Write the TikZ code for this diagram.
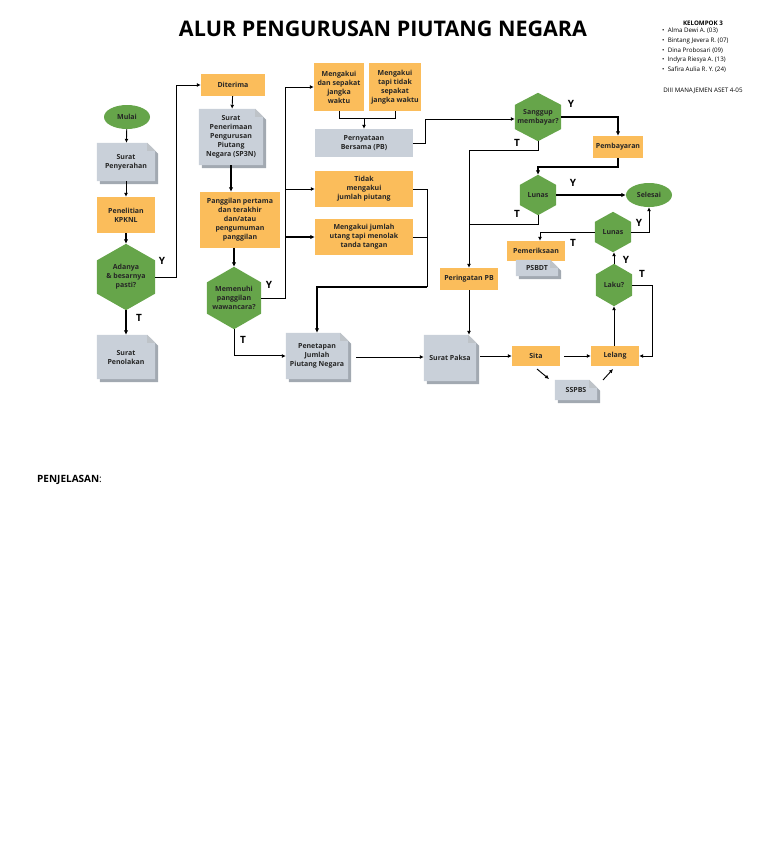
\documentclass[tikz,border=0pt]{standalone}
\usepackage{fontspec}
\setmainfont{Open Sans}
\usetikzlibrary{shapes.geometric,arrows.meta,calc,backgrounds}
\definecolor{orc}{HTML}{FBBD5B}
\definecolor{grc}{HTML}{66A54A}
\definecolor{gyc}{HTML}{C9D0D9}
\definecolor{shc}{HTML}{A2A9B1}
\newcommand\docshape[1]{%
 \fill[shc] ($(#1.south west)+(3,3)$) -- ($(#1.north west)+(3,3)$) -- ($(#1.north east)+(-5,3)$) -- ($(#1.north east)+(3,11)$) -- ($(#1.south east)+(3,3)$) -- cycle;
 \fill[gyc] (#1.south west) -- (#1.north west) -- ($(#1.north east)+(-8,0)$) -- ($(#1.north east)+(0,8)$) -- (#1.south east) -- cycle;
 \fill[shc!70] ($(#1.north east)+(-8,0)$) -- ($(#1.north east)+(-8,8)$) -- ($(#1.north east)+(0,8)$) -- cycle;}
\newcommand\hexshape[1]{%
 \fill[grc] (#1.north) -- ($(#1.north east)!0.25!(#1.south east)$) -- ($(#1.north east)!0.75!(#1.south east)$) -- (#1.south) -- ($(#1.south west)!0.25!(#1.north west)$) -- ($(#1.south west)!0.75!(#1.north west)$) -- cycle;}
\newcommand\boxshape[1]{\fill[orc] (#1.south west) rectangle (#1.north east);}
\newcommand\grayshape[1]{\fill[gyc] (#1.south west) rectangle (#1.north east);}
\begin{document}
\begin{tikzpicture}[x=1pt,y=-1pt,
 t/.style={font=\fontsize{7}{9}\selectfont\bfseries,align=center,inner sep=0pt,text=black!85},
 ell/.style={t,ellipse,fill=grc,minimum width=46,minimum height=24},
 arr/.style={-{Latex[length=4pt,width=4pt]},line width=0.9pt},
 tarr/.style={-{Latex[length=4.5pt,width=4.5pt]},line width=1.6pt},
 ln/.style={line width=0.9pt},
 yl/.style={font=\fontsize{10}{10}\selectfont\bfseries}]
\useasboundingbox (0,0) rectangle (768,862);
\node[font=\fontsize{21.5}{22}\selectfont\bfseries] (title) at (383,29) {ALUR PENGURUSAN PIUTANG NEGARA};
\node[font=\fontsize{6.2}{7}\selectfont\bfseries] (kel) at (703,23) {KELOMPOK 3};
\node[font=\fontsize{6.2}{9.6}\selectfont,align=left,anchor=north west,inner sep=0pt] (list) at (662,28) {\textbullet\ \ Alma Dewi A. (03)\\\textbullet\ \ Bintang Jevera R. (07)\\\textbullet\ \ Dina Probosari (09)\\\textbullet\ \ Indyra Riesya A. (13)\\\textbullet\ \ Safira Aulia R. Y. (24)};
\node[font=\fontsize{6.2}{7}\selectfont] (diii) at (703,91) {DIII MANAJEMEN ASET 4-05};
\node[font=\fontsize{10}{10}\selectfont,anchor=west,inner sep=0pt] (pj) at (37,480) {\textbf{PENJELASAN}:};

\node[ell] (mulai) at (127,117) {Mulai};
\node[t,minimum width=58,minimum height=38] (spy) at (126,162) {Surat\\Penyerahan};
\node[t,minimum width=58,minimum height=36] (pen) at (126,215) {Penelitian\\KPKNL};
\node[t,minimum width=58,minimum height=66] (ada) at (126,277) {Adanya\\\& besarnya\\pasti?};
\node[t,minimum width=58,minimum height=44] (spl) at (126,357) {Surat\\Penolakan};
\node[t,minimum width=64,minimum height=22] (dit) at (233,85) {Diterima};
\node[t,minimum width=64,minimum height=56] (sp3n) at (231,137) {Surat\\Penerimaan\\Pengurusan\\Piutang\\Negara (SP3N)};
\node[t,minimum width=80,minimum height=56] (pgl) at (240,220) {Panggilan pertama\\dan terakhir\\dan/atau\\pengumuman\\panggilan};
\node[t,minimum width=54,minimum height=62] (mem) at (234,298) {Memenuhi\\panggilan\\wawancara?};
\node[t,minimum width=62,minimum height=46] (pjn) at (317,356) {Penetapan\\Jumlah\\Piutang Negara};
\node[t,minimum width=50,minimum height=48] (mk1) at (339,87) {Mengakui\\dan sepakat\\jangka\\waktu};
\node[t,minimum width=52,minimum height=48] (mk2) at (395,87) {Mengakui\\tapi tidak\\sepakat\\jangka waktu};
\node[t,minimum width=98,minimum height=28] (pb) at (364,143) {Pernyataan\\Bersama (PB)};
\node[t,minimum width=98,minimum height=36] (tdk) at (364,189) {Tidak\\mengakui\\jumlah piutang};
\node[t,minimum width=98,minimum height=36] (mkj) at (364,237) {Mengakui jumlah\\utang tapi menolak\\tanda tangan};
\node[t,minimum width=46,minimum height=48] (sgp) at (538,117) {Sanggup\\membayar?};
\node[t,minimum width=50,minimum height=22] (pby) at (618,147) {Pembayaran};
\node[t,minimum width=36,minimum height=40] (ln1) at (538,195) {Lunas};
\node[ell] (sel) at (649,195) {Selesai};
\node[t,minimum width=36,minimum height=40] (ln2) at (613,232) {Lunas};
\node[t,minimum width=58,minimum height=20] (pmr) at (536,251) {Pemeriksaan};
\node[t,minimum width=42,minimum height=16] (psb) at (537,268) {PSBDT};
\node[t,minimum width=58,minimum height=22] (prg) at (469,279) {Peringatan PB};
\node[t,minimum width=36,minimum height=42] (laku) at (614,285) {Laku?};
\node[t,minimum width=52,minimum height=46] (spk) at (450,358) {Surat Paksa};
\node[t,minimum width=48,minimum height=20] (sita) at (536,356) {Sita};
\node[t,minimum width=48,minimum height=20] (lel) at (615,356) {Lelang};
\node[t,minimum width=42,minimum height=20] (ssp) at (576,390) {SSPBS};
\coordinate (j2) at (469,224);

\begin{scope}[on background layer]
\docshape{spy}\boxshape{pen}\hexshape{ada}\docshape{spl}
\boxshape{dit}\docshape{sp3n}\boxshape{pgl}\hexshape{mem}\docshape{pjn}
\boxshape{mk1}\boxshape{mk2}\grayshape{pb}\boxshape{tdk}\boxshape{mkj}
\hexshape{sgp}\boxshape{pby}\hexshape{ln1}\hexshape{ln2}\boxshape{pmr}\docshape{psb}
\boxshape{prg}\hexshape{laku}\docshape{spk}\boxshape{sita}\boxshape{lel}\docshape{ssp}
\end{scope}

\draw[arr] (mulai) -- (spy);
\draw[arr] (spy) -- (pen);
\draw[tarr] (pen) -- (ada);
\draw[tarr] (ada) -- (spl) node[yl,pos=0.3,right=6pt] {T};
\draw[arr] (ada.east) -- ++(21,0) |- (dit.west);
\node[yl] (y1) at (162,261) {Y};
\draw[arr] (dit) -- (sp3n);
\draw[tarr] (sp3n.south) -- (sp3n.south |- pgl.north);
\draw[tarr] (pgl.south -| mem.north) -- (mem.north);
\draw[arr] (mem.east) -- ++(24,0) |- (mk1.west);
\node[yl] (y2) at (269,285) {Y};
\coordinate (jn) at (286,189);
\draw[arr] (jn) -- (tdk.west);
\draw[tarr] (mkj.west -| jn) -- (mkj.west);
\draw[arr] (mem.south) -- ++(0,26) -| ($(pjn.west)+(-3,0)$) -- (pjn.west);
\node[yl] (t2) at (243,340) {T};
\draw[ln] (mk1.south) -- ++(0,7) -| (mk2.south);
\draw[arr] (364,118) -- (pb.north);
\draw[arr] (pb.east) -- ++(12,0) |- ($(sgp.west)+(0,2)$);
\draw[ln] (tdk.east) -| (427,287);
\draw[ln] (mkj.east) -- (427,237);
\draw[tarr] (427,287) -| (pjn.north);
\draw[arr] (356,357) -- (spk.west |- 0,357);
\draw[tarr] (sgp.east) -| (pby.north);
\node[yl] (y3) at (571,104) {Y};
\draw[arr] (sgp.south) -- ++(0,9) -| (prg.north);
\node[yl] (t3) at (517,143) {T};
\draw[tarr] (pby.south) -- ++(0,9) -| (ln1.north);
\draw[tarr] (ln1.east) -- (sel.west);
\node[yl] (y4) at (573,183) {Y};
\draw[ln] (ln1.south) |- (j2);
\node[yl] (t4) at (517,214) {T};
\draw[arr] (ln2.west) -| ($(pmr.north)+(4,0)$);
\node[yl] (t5) at (573,243) {T};
\draw[arr] (ln2.east) -| (sel.south);
\node[yl] (y5) at (639,223) {Y};
\draw[arr] (laku.north) -- (ln2.south -| laku.north);
\node[yl] (y6) at (626,260) {Y};
\draw[arr] (laku.east) -| ($(lel.east)+(13,0)$) -- (lel.east);
\node[yl] (t6) at (642,274) {T};
\draw[arr] (lel.north -| laku.south) -- (laku.south);
\draw[arr] (prg.south) -- (prg.south |- spk.north);
\draw[arr] (sita.west -| 480,0) -- (sita.west);
\draw[arr] (sita.east) ++(4,0) -- (lel.west);
\draw[arr] (537,369) -- (549,379);
\draw[arr] (603,380) -- (613,369);
\end{tikzpicture}
\end{document}
